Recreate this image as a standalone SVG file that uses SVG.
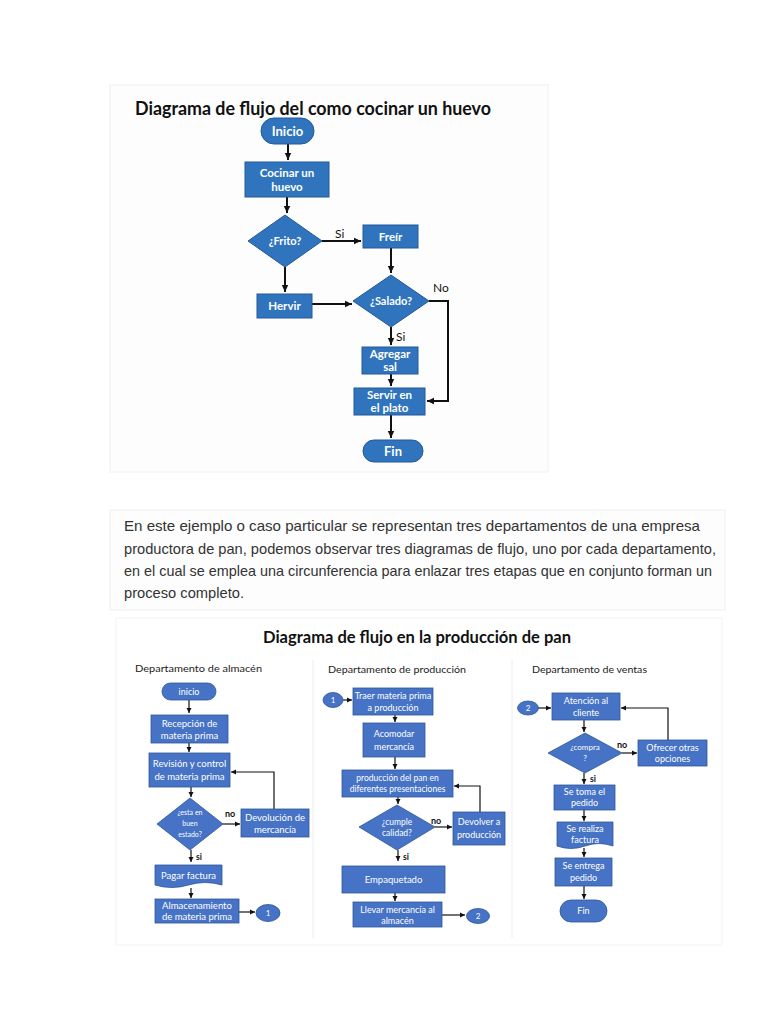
<svg xmlns="http://www.w3.org/2000/svg" width="768" height="1024" viewBox="0 0 768 1024">
<style>
.t1{fill:#2f74bd;stroke:#24589a;stroke-width:1}
.t2{fill:#4673c6;stroke:#2f5597;stroke-width:0.8}
.wt{fill:#fff;font-family:Lato,"Liberation Sans",sans-serif;font-weight:bold;text-anchor:middle}
.ws{fill:#fff;font-family:Lato,"Liberation Sans",sans-serif;text-anchor:middle}
.lb{fill:#111;font-family:Lato,"Liberation Sans",sans-serif}
.c1{stroke:#111;stroke-width:2;fill:none}
.c2{stroke:#111;stroke-width:1.2;fill:none}
.hd{fill:#222;font-family:Lato,"Liberation Sans",sans-serif;font-size:10px}
</style>
<defs>
<marker id="a1" markerUnits="userSpaceOnUse" markerWidth="8" markerHeight="8" refX="7" refY="4" orient="auto"><path d="M0,0.8 L7,4 L0,7.2 Z" fill="#111"/></marker>
<marker id="a2" markerUnits="userSpaceOnUse" markerWidth="6" markerHeight="6" refX="5" refY="3" orient="auto"><path d="M0,0.5 L5,3 L0,5.5 Z" fill="#111"/></marker>
</defs>
<rect width="768" height="1024" fill="#fff"/>
<rect x="110" y="85" width="438" height="387" fill="#fdfdfd" stroke="#f0f0f0"/>
<rect x="110" y="510" width="615" height="100" fill="#fdfdfd" stroke="#efefef"/>
<rect x="116" y="618" width="606" height="327" fill="#fff" stroke="#f3f3f3"/>
<line x1="313" y1="660" x2="313" y2="938" stroke="#ececec"/>
<line x1="512" y1="660" x2="512" y2="938" stroke="#ececec"/>

<text x="135" y="115" font-family="Lato,'Liberation Sans',sans-serif" font-weight="bold" font-size="19" fill="#111" textLength="356" lengthAdjust="spacingAndGlyphs">Diagrama de flujo del como cocinar un huevo</text>

<g id="connectors">
<path class="c1" d="M288,144 V160" marker-end="url(#a1)"/>
<path class="c1" d="M287,197 V213" marker-end="url(#a1)"/>
<path class="c1" d="M322,241 H361" marker-end="url(#a1)"/>
<path class="c1" d="M391,248 V273" marker-end="url(#a1)"/>
<path class="c1" d="M429,301 H448 V401 H427" marker-end="url(#a1)"/>
<path class="c1" d="M285,267 V292" marker-end="url(#a1)"/>
<path class="c1" d="M312,304 H352" marker-end="url(#a1)"/>
<path class="c1" d="M391,327 V345" marker-end="url(#a1)"/>
<path class="c1" d="M391,374 V386" marker-end="url(#a1)"/>
<path class="c1" d="M391,415 V438" marker-end="url(#a1)"/>

<path class="c2" d="M189,700 V713" marker-end="url(#a2)"/>
<path class="c2" d="M189,743 V752" marker-end="url(#a2)"/>
<path class="c2" d="M191,787 V797" marker-end="url(#a2)"/>
<path class="c2" d="M223,824 H240" marker-end="url(#a2)"/>
<path class="c2" d="M274,809 V772 H231" marker-end="url(#a2)"/>
<path class="c2" d="M191,850 V862" marker-end="url(#a2)"/>
<path class="c2" d="M191,888 V898" marker-end="url(#a2)"/>
<path class="c2" d="M239,912 H255" marker-end="url(#a2)"/>

<path class="c2" d="M343,700 H352" marker-end="url(#a2)"/>
<path class="c2" d="M395,715 V722" marker-end="url(#a2)"/>
<path class="c2" d="M395,757 V769" marker-end="url(#a2)"/>
<path class="c2" d="M398,797 V804" marker-end="url(#a2)"/>
<path class="c2" d="M435,827 H452" marker-end="url(#a2)"/>
<path class="c2" d="M480,812 V786 H454" marker-end="url(#a2)"/>
<path class="c2" d="M398,850 V861" marker-end="url(#a2)"/>
<path class="c2" d="M395,893 V901" marker-end="url(#a2)"/>
<path class="c2" d="M442,915 H465" marker-end="url(#a2)"/>

<path class="c2" d="M538,708 H551" marker-end="url(#a2)"/>
<path class="c2" d="M584,720 V732" marker-end="url(#a2)"/>
<path class="c2" d="M622,753 H637" marker-end="url(#a2)"/>
<path class="c2" d="M668,740 V708 H621" marker-end="url(#a2)"/>
<path class="c2" d="M584,773 V784" marker-end="url(#a2)"/>
<path class="c2" d="M584,810 V821" marker-end="url(#a2)"/>
<path class="c2" d="M584,848 V857" marker-end="url(#a2)"/>
<path class="c2" d="M584,886 V899" marker-end="url(#a2)"/>
</g>

<g id="labels">
<text class="lb" x="335" y="238" font-size="12">Si</text>
<text class="lb" x="433" y="292" font-size="12">No</text>
<text class="lb" x="396" y="341" font-size="12">Si</text>
<text class="lb" x="225" y="817" font-size="9" font-weight="bold">no</text>
<text class="lb" x="196" y="860" font-size="8.5" font-weight="bold">si</text>
<text class="lb" x="431" y="824" font-size="9" font-weight="bold">no</text>
<text class="lb" x="403" y="860" font-size="8.5" font-weight="bold">si</text>
<text class="lb" x="617" y="748" font-size="9" font-weight="bold">no</text>
<text class="lb" x="590" y="782" font-size="8.5" font-weight="bold">si</text>
</g>

<g id="inicio"><rect class="t1" x="261" y="118" width="53" height="26" rx="13"/><text class="wt" x="287.5" y="136" font-size="13">Inicio</text></g>
<g id="cocinar"><rect class="t1" x="245" y="162" width="84" height="35"/><text class="wt" x="287" y="177" font-size="11.5">Cocinar un</text><text class="wt" x="287" y="191" font-size="11.5">huevo</text></g>
<g id="frito"><polygon class="t1" points="285,215 322,241 285,267 248,241"/><text class="wt" x="285" y="245" font-size="11">¿Frito?</text></g>
<g id="freir"><rect class="t1" x="363" y="225" width="55" height="23"/><text class="wt" x="390.5" y="241" font-size="11.5">Freír</text></g>
<g id="salado"><polygon class="t1" points="391,275 429,301 391,327 353,301"/><text class="wt" x="391" y="305" font-size="11">¿Salado?</text></g>
<g id="hervir"><rect class="t1" x="257" y="294" width="55" height="24"/><text class="wt" x="284.5" y="310" font-size="11.5">Hervir</text></g>
<g id="agregar"><rect class="t1" x="362" y="347" width="56" height="27"/><text class="wt" x="390" y="358" font-size="11.5">Agregar</text><text class="wt" x="390" y="371" font-size="11.5">sal</text></g>
<g id="servir"><rect class="t1" x="354" y="388" width="71" height="27"/><text class="wt" x="389.5" y="399" font-size="11.5">Servir en</text><text class="wt" x="389.5" y="412" font-size="11.5">el plato</text></g>
<g id="fin"><rect class="t1" x="363" y="440" width="60" height="22" rx="11"/><text class="wt" x="393" y="456" font-size="13">Fin</text></g>

<g id="paragraph" font-family="'Liberation Sans',sans-serif" font-size="14.5" fill="#333">
<text x="124" y="531" textLength="576" lengthAdjust="spacingAndGlyphs">En este ejemplo o caso particular se representan tres departamentos de una empresa</text>
<text x="124" y="554" textLength="592" lengthAdjust="spacingAndGlyphs">productora de pan, podemos observar tres diagramas de flujo, uno por cada departamento,</text>
<text x="124" y="576" textLength="588" lengthAdjust="spacingAndGlyphs">en el cual se emplea una circunferencia para enlazar tres etapas que en conjunto forman un</text>
<text x="124" y="598" textLength="120" lengthAdjust="spacingAndGlyphs">proceso completo.</text>
</g>

<text x="263" y="643" font-family="Lato,'Liberation Sans',sans-serif" font-weight="bold" font-size="17" fill="#111" textLength="308" lengthAdjust="spacingAndGlyphs">Diagrama de flujo en la producción de pan</text>
<text class="hd" x="135" y="672" textLength="127" lengthAdjust="spacingAndGlyphs">Departamento de almacén</text>
<text class="hd" x="328" y="673" textLength="138" lengthAdjust="spacingAndGlyphs">Departamento de producción</text>
<text class="hd" x="532" y="673" textLength="115" lengthAdjust="spacingAndGlyphs">Departamento de ventas</text>

<g id="a-inicio"><rect class="t2" x="162" y="683" width="54" height="17" rx="8.5"/><text class="ws" x="189" y="695" font-size="9">inicio</text></g>
<g id="a-recepcion"><rect class="t2" x="151" y="715" width="77" height="28"/><text class="ws" x="189.5" y="727" font-size="9.5">Recepción de</text><text class="ws" x="189.5" y="739" font-size="9.5">materia prima</text></g>
<g id="a-revision"><rect class="t2" x="149" y="753" width="81" height="34"/><text class="ws" x="189.5" y="767" font-size="9.5">Revisión y control</text><text class="ws" x="189.5" y="780" font-size="9.5">de materia prima</text></g>
<g id="a-estado"><polygon class="t2" points="190,798 223,824 190,850 157,824"/><text class="ws" x="190" y="815" font-size="7">¿esta en</text><text class="ws" x="190" y="826" font-size="7">buen</text><text class="ws" x="190" y="837" font-size="7">estado?</text></g>
<g id="a-devolucion"><rect class="t2" x="241" y="809" width="68" height="28"/><text class="ws" x="275" y="821" font-size="9.5">Devolución de</text><text class="ws" x="275" y="833" font-size="9.5">mercancía</text></g>
<g id="a-pagar"><path class="t2" d="M155,865 H222 V885 Q205,880 188.5,885 T155,885 Z"/><text class="ws" x="188.5" y="879" font-size="9.5">Pagar factura</text></g>
<g id="a-almacenamiento"><rect class="t2" x="155" y="899" width="84" height="24"/><text class="ws" x="197" y="909" font-size="9.5">Almacenamiento</text><text class="ws" x="197" y="920" font-size="9.5">de materia prima</text></g>
<g id="a-c1"><ellipse class="t2" cx="268" cy="913" rx="12" ry="8.5"/><text class="ws" x="268" y="916" font-size="8">1</text></g>

<g id="p-c1"><ellipse class="t2" cx="333" cy="700" rx="10" ry="7.5"/><text class="ws" x="333" y="703" font-size="8">1</text></g>
<g id="p-traer"><rect class="t2" x="353" y="688" width="80" height="27"/><text class="ws" x="393" y="699" font-size="9">Traer materia prima</text><text class="ws" x="393" y="711" font-size="9">a producción</text></g>
<g id="p-acomodar"><rect class="t2" x="363" y="723" width="62" height="34"/><text class="ws" x="394" y="737" font-size="9">Acomodar</text><text class="ws" x="394" y="750" font-size="9">mercancía</text></g>
<g id="p-produccion"><rect class="t2" x="342" y="770" width="111" height="27"/><text class="ws" x="397.5" y="781" font-size="8.5">producción del pan en</text><text class="ws" x="397.5" y="792" font-size="8.5">diferentes presentaciones</text></g>
<g id="p-cumple"><polygon class="t2" points="397,805 435,827 397,850 359,827"/><text class="ws" x="397" y="825" font-size="8.5">¿cumple</text><text class="ws" x="397" y="836" font-size="8.5">calidad?</text></g>
<g id="p-devolver"><rect class="t2" x="453" y="812" width="52" height="33"/><text class="ws" x="479" y="825" font-size="9">Devolver a</text><text class="ws" x="479" y="838" font-size="9">producción</text></g>
<g id="p-empaquetado"><rect class="t2" x="342" y="866" width="103" height="27"/><text class="ws" x="393.5" y="883" font-size="9.5">Empaquetado</text></g>
<g id="p-llevar"><rect class="t2" x="353" y="902" width="89" height="25"/><text class="ws" x="397.5" y="913" font-size="9">Llevar mercancía al</text><text class="ws" x="397.5" y="924" font-size="9">almacén</text></g>
<g id="p-c2"><ellipse class="t2" cx="478" cy="916" rx="11.5" ry="7.5"/><text class="ws" x="478" y="919" font-size="8">2</text></g>

<g id="v-c2"><ellipse class="t2" cx="528" cy="708" rx="10.5" ry="7"/><text class="ws" x="528" y="711" font-size="8">2</text></g>
<g id="v-atencion"><rect class="t2" x="552" y="693" width="68" height="27"/><text class="ws" x="586" y="704" font-size="9">Atención al</text><text class="ws" x="586" y="716" font-size="9">cliente</text></g>
<g id="v-compra"><polygon class="t2" points="585,733 622,753 585,773 548,753"/><text class="ws" x="585" y="750" font-size="8">¿compra</text><text class="ws" x="585" y="761" font-size="8">?</text></g>
<g id="v-ofrecer"><rect class="t2" x="638" y="740" width="69" height="26"/><text class="ws" x="672.5" y="751" font-size="9">Ofrecer otras</text><text class="ws" x="672.5" y="762" font-size="9">opciones</text></g>
<g id="v-toma"><rect class="t2" x="554" y="785" width="61" height="25"/><text class="ws" x="584.5" y="795" font-size="9">Se toma el</text><text class="ws" x="584.5" y="806" font-size="9">pedido</text></g>
<g id="v-realiza"><path class="t2" d="M557,822 H613 V846 Q599,841 585,846 T557,846 Z"/><text class="ws" x="585" y="832" font-size="9">Se realiza</text><text class="ws" x="585" y="843" font-size="9">factura</text></g>
<g id="v-entrega"><rect class="t2" x="555" y="858" width="57" height="28"/><text class="ws" x="583.5" y="869" font-size="9">Se entrega</text><text class="ws" x="583.5" y="881" font-size="9">pedido</text></g>
<g id="v-fin"><rect class="t2" x="560" y="900" width="47" height="22" rx="11"/><text class="ws" x="583.5" y="914" font-size="9">Fin</text></g>
</svg>
